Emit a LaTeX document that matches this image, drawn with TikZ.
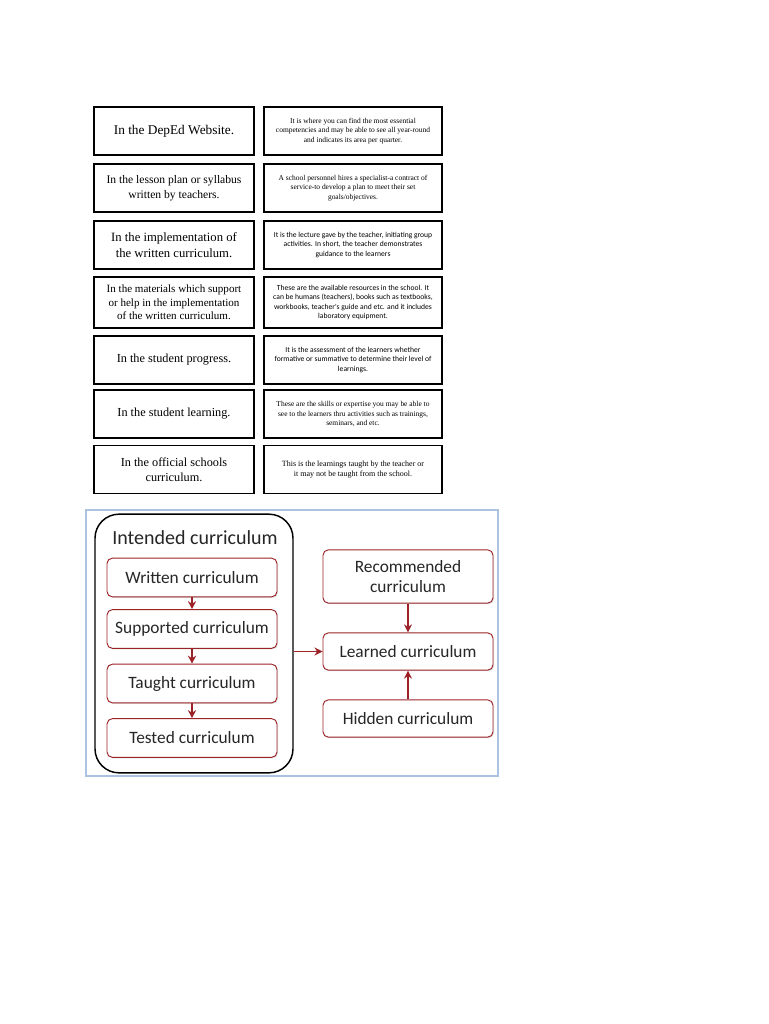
\documentclass[tikz,border=0pt]{standalone}
\usepackage{fontspec}
\setmainfont{Liberation Serif}
\newfontfamily\calibri{Carlito}
\usetikzlibrary{arrows.meta,shadows}
\definecolor{cvred}{HTML}{9B2226}
\definecolor{cvframe}{HTML}{A9C3E0}
\definecolor{cvtext}{HTML}{262626}
\newcommand\ansrm{\fontsize{5.6}{7.2}\selectfont}
\newcommand\anssf{\calibri\fontsize{5.7}{7.2}\selectfont}
\tikzset{
  cvask/.style  ={rectangle, draw=black, line width=1.1pt, minimum width=120pt,
                  minimum height=36pt, align=center, inner sep=1pt},
  cvans/.style  ={rectangle, draw=black, line width=1.1pt, minimum width=133.5pt,
                  minimum height=36pt, align=center, inner sep=1pt},
  cvbox/.style  ={rectangle, rounded corners=4pt, draw=cvred, line width=0.7pt, fill=white,
                  minimum width=127.5pt, minimum height=29pt, align=center, text=cvtext,
                  font=\calibri\fontsize{13}{15}\selectfont,
                  drop shadow={opacity=0.25, shadow xshift=0.8pt, shadow yshift=-0.8pt}},
  cvarrow/.style={-{Stealth[length=6pt,width=6pt]}, line width=1.1pt, draw=cvred},
}
\begin{document}
\begin{tikzpicture}[x=0.75pt, y=-0.75pt]
  \fill[white] (0,0) rectangle (768,1024);
  \useasboundingbox (0,0) rectangle (768,1024);
  % matching cards
  \node[cvask, font=\fontsize{10}{12}\selectfont] (ask1) at (174,131) {In the DepEd Website.};
  \node[cvans, font=\ansrm] (ans1) at (353,131)
    {It is where you can find the most essential\\competencies and may be able to see all year-round\\and indicates its area per quarter.};
  \node[cvask, font=\fontsize{8.7}{11}\selectfont] (ask2) at (174,188)
    {In the lesson plan or syllabus\\written by teachers.};
  \node[cvans, font=\ansrm] (ans2) at (353,188)
    {A school personnel hires a specialist-a contract of\\service-to develop a plan to meet their set\\goals/objectives.};
  \node[cvask, font=\fontsize{9.5}{11.5}\selectfont] (ask3) at (174,245)
    {In the implementation of\\the written curriculum.};
  \node[cvans, font=\anssf] (ans3) at (353,245)
    {It is the lecture gave by the teacher, initiating group\\activities. In short, the teacher demonstrates\\guidance to the learners};
  \node[cvask, minimum height=38pt, font=\fontsize{8.3}{10}\selectfont] (ask4) at (174,302.5)
    {In the materials which support\\or help in the implementation\\of the written curriculum.};
  \node[cvans, minimum height=38pt, font=\anssf] (ans4) at (353,302.5)
    {These are the available resources in the school. It\\can be humans (teachers), books such as textbooks,\\workbooks, teacher's guide and etc. and it includes\\laboratory equipment.};
  \node[cvask, font=\fontsize{9.2}{11}\selectfont] (ask5) at (174,360) {In the student progress.};
  \node[cvans, font=\anssf] (ans5) at (353,360)
    {It is the assessment of the learners whether\\formative or summative to determine their level of\\learnings.};
  \node[cvask, font=\fontsize{9.2}{11}\selectfont] (ask6) at (174,414) {In the student learning.};
  \node[cvans, font=\ansrm] (ans6) at (353,414)
    {These are the skills or expertise you may be able to\\see to the learners thru activities such as trainings,\\seminars, and etc.};
  \node[cvask, font=\fontsize{9.2}{11}\selectfont] (ask7) at (174,469.5)
    {In the official schools\\curriculum.};
  \node[cvans, font=\fontsize{6}{8}\selectfont] (ans7) at (353,469.5)
    {This is the learnings taught by the teacher or\\it may not be taught from the school.};
  % curriculum diagram
  \draw[cvframe, line width=1.2pt] (86,510) rectangle (498,776);
  \node[draw=black, line width=1.1pt, rounded corners=18pt, minimum width=148.5pt,
        minimum height=194pt] (intended) at (194,643.5) {};
  \node[font=\calibri\fontsize{15}{17}\selectfont, text=cvtext] (intendedlbl) at (195,538)
    {Intended curriculum};
  \node[cvbox] (written)   at (192,577.5) {Written curriculum};
  \node[cvbox] (supported) at (192,629)   {Supported curriculum};
  \node[cvbox] (taught)    at (192,683.5) {Taught curriculum};
  \node[cvbox] (tested)    at (192,738)   {Tested curriculum};
  \node[cvbox, minimum height=40pt] (recommended) at (408,576.5) {Recommended\\curriculum};
  \node[cvbox, minimum height=28pt] (learned)     at (408,651.5) {Learned curriculum};
  \node[cvbox, minimum height=28pt] (hidden)      at (408,718.5) {Hidden curriculum};
  \draw[cvarrow] (written) -- (supported);
  \draw[cvarrow] (supported) -- (taught);
  \draw[cvarrow] (taught) -- (tested);
  \draw[cvarrow] (recommended) -- (learned);
  \draw[cvarrow] (hidden) -- (learned);
  \draw[cvarrow] (intended.east |- learned.west) -- (learned.west);
\end{tikzpicture}
\end{document}
